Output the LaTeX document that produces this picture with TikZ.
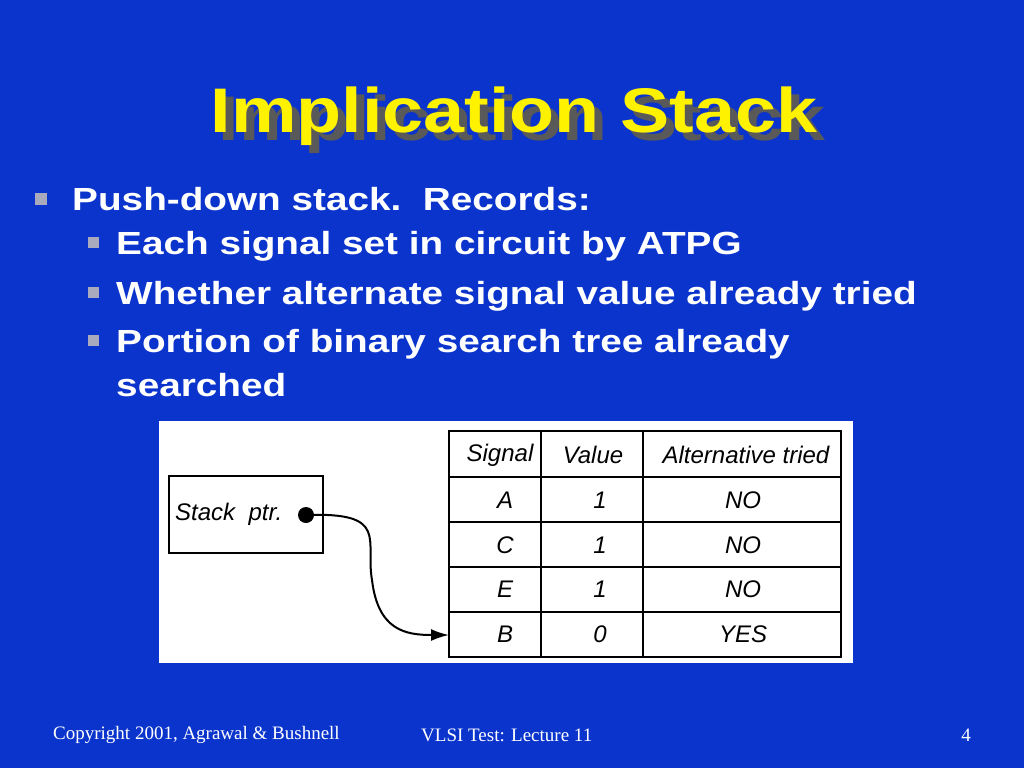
\documentclass[tikz,border=0pt]{standalone}
\usepackage{fontspec}
\setmainfont{Liberation Sans}
\newfontfamily\serifft{Liberation Serif}
\usetikzlibrary{arrows.meta}
\definecolor{bg}{RGB}{10,52,204}
\definecolor{bul}{RGB}{170,170,190}
\begin{document}
\begin{tikzpicture}[x=1pt,y=-1pt,
  body/.style={anchor=west,text=white,font=\fontsize{32}{36}\selectfont\bfseries,inner sep=0,xscale=1.21},
  cell/.style={font=\fontsize{24}{27}\selectfont\itshape,inner sep=0},
  foot/.style={text=white,font=\serifft\fontsize{19}{22}\selectfont,inner sep=0}]
\fill[bg] (0,0) rectangle (1024,768);
\useasboundingbox (0,0) rectangle (1024,768);
\node[text=gray!70!black,font=\fontsize{63}{66}\selectfont\bfseries,inner sep=0,xscale=1.17] (tsh) at (522,124) {Implication Stack};
\node[text=yellow,font=\fontsize{63}{66}\selectfont\bfseries,inner sep=0,xscale=1.17] (title) at (514,116) {Implication Stack};
\fill[bul] (35,193) rectangle (47,205);
\node[body] (b1) at (72,199) {Push-down stack.\ \ Records:};
\foreach \y/\t/\n in {246/Each signal set in circuit by ATPG/s1, 296/Whether alternate signal value already tried/s2, 344/Portion of binary search tree already/s3}{
  \fill[bul] (88,\y-9) rectangle (99,\y+2);
  \node[body] (\n) at (116,\y) {\t};}
\node[body] (s3b) at (116,385) {searched};
\fill[white] (159,421) rectangle (853,663);
\node[draw,line width=2pt,minimum width=154,minimum height=77,anchor=north west,inner sep=0] (sp) at (168,475) {};
\node[cell,anchor=west] (spt) at (175,514) {Stack\ \ ptr.};
\draw[line width=2pt] (449,431) rectangle (841,657);
\foreach \y in {477,522,567,612} \draw[line width=2pt] (449,\y) -- (841,\y);
\foreach \x in {541,643} \draw[line width=2pt] (\x,431) -- (\x,657);
\node[cell] (h1) at (500,455) {Signal};
\node[cell] (h2) at (593,455) {Value};
\node[cell] (h3) at (746,455) {Alternative tried};
\foreach \r/\y/\a/\b/\c in {1/500/A/1/NO,2/545/C/1/NO,3/589/E/1/NO,4/634/B/0/YES}{
  \node[cell] (a\r) at (505,\y) {\a};
  \node[cell] (v\r) at (600,\y) {\b};
  \node[cell] (c\r) at (743,\y) {\c};}
\coordinate (dot) at (306,515);
\coordinate (tip) at (449,635);
\fill (dot) circle (8);
\draw[line width=2pt,-{Latex[length=18pt,width=12pt]}] (dot) .. controls (390,512) and (365,540) .. (372,580) .. controls (378,630) and (405,635) .. (tip);
\node[foot,anchor=west] (f1) at (53,735) {Copyright 2001, Agrawal \& Bushnell};
\node[foot,anchor=west] (f2) at (421,735) {VLSI Test: Lecture 11};
\node[foot] (f3) at (966,735) {4};
\end{tikzpicture}
\end{document}
